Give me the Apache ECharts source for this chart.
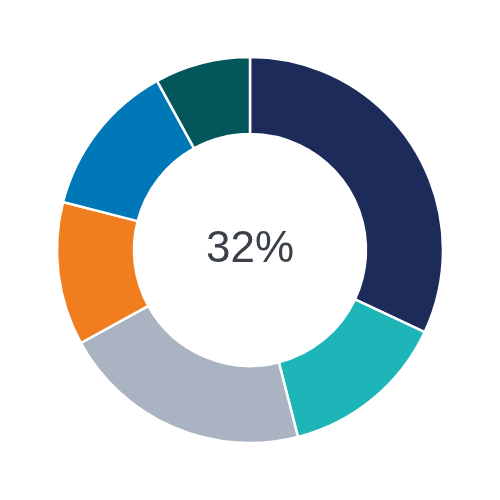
<!DOCTYPE html>
<html>
<head>
<meta charset="utf-8">
<script src="https://cdn.jsdelivr.net/npm/echarts@6/dist/echarts.min.js"></script>
<style>html,body{margin:0;padding:0;background:#fff}#c{width:500px;height:500px}</style>
</head>
<body>
<div id="c"></div>
<script>
const categories = ['A', 'B', 'C', 'D', 'E', 'F'];
const values = [32, 14, 21, 12, 13, 8];
const colors = ['#1c2b5a', '#1db5b8', '#a9b3c1', '#f07e1f', '#0077b6', '#03565a'];
const centerLabel = '32%';

const chart = echarts.init(document.getElementById('c'));
chart.setOption({
  animation: false,
  graphic: [{
    type: 'text',
    left: 'center',
    top: 'middle',
    style: { text: centerLabel, font: '44px "Liberation Sans", Arial, sans-serif', fill: '#3b4049', textAlign: 'center' },
    x: 0, y: -3
  }],
  series: [{
    type: 'pie',
    center: ['50%', '50%'],
    radius: ['46.4%', '77.2%'],
    startAngle: 90,
    clockwise: true,
    label: { show: false },
    labelLine: { show: false },
    itemStyle: { borderColor: '#fff', borderWidth: 2.5 },
    emphasis: { disabled: true },
    data: categories.map((c, i) => ({ name: c, value: values[i], itemStyle: { color: colors[i] } }))
  }]
});
</script>
</body>
</html>
